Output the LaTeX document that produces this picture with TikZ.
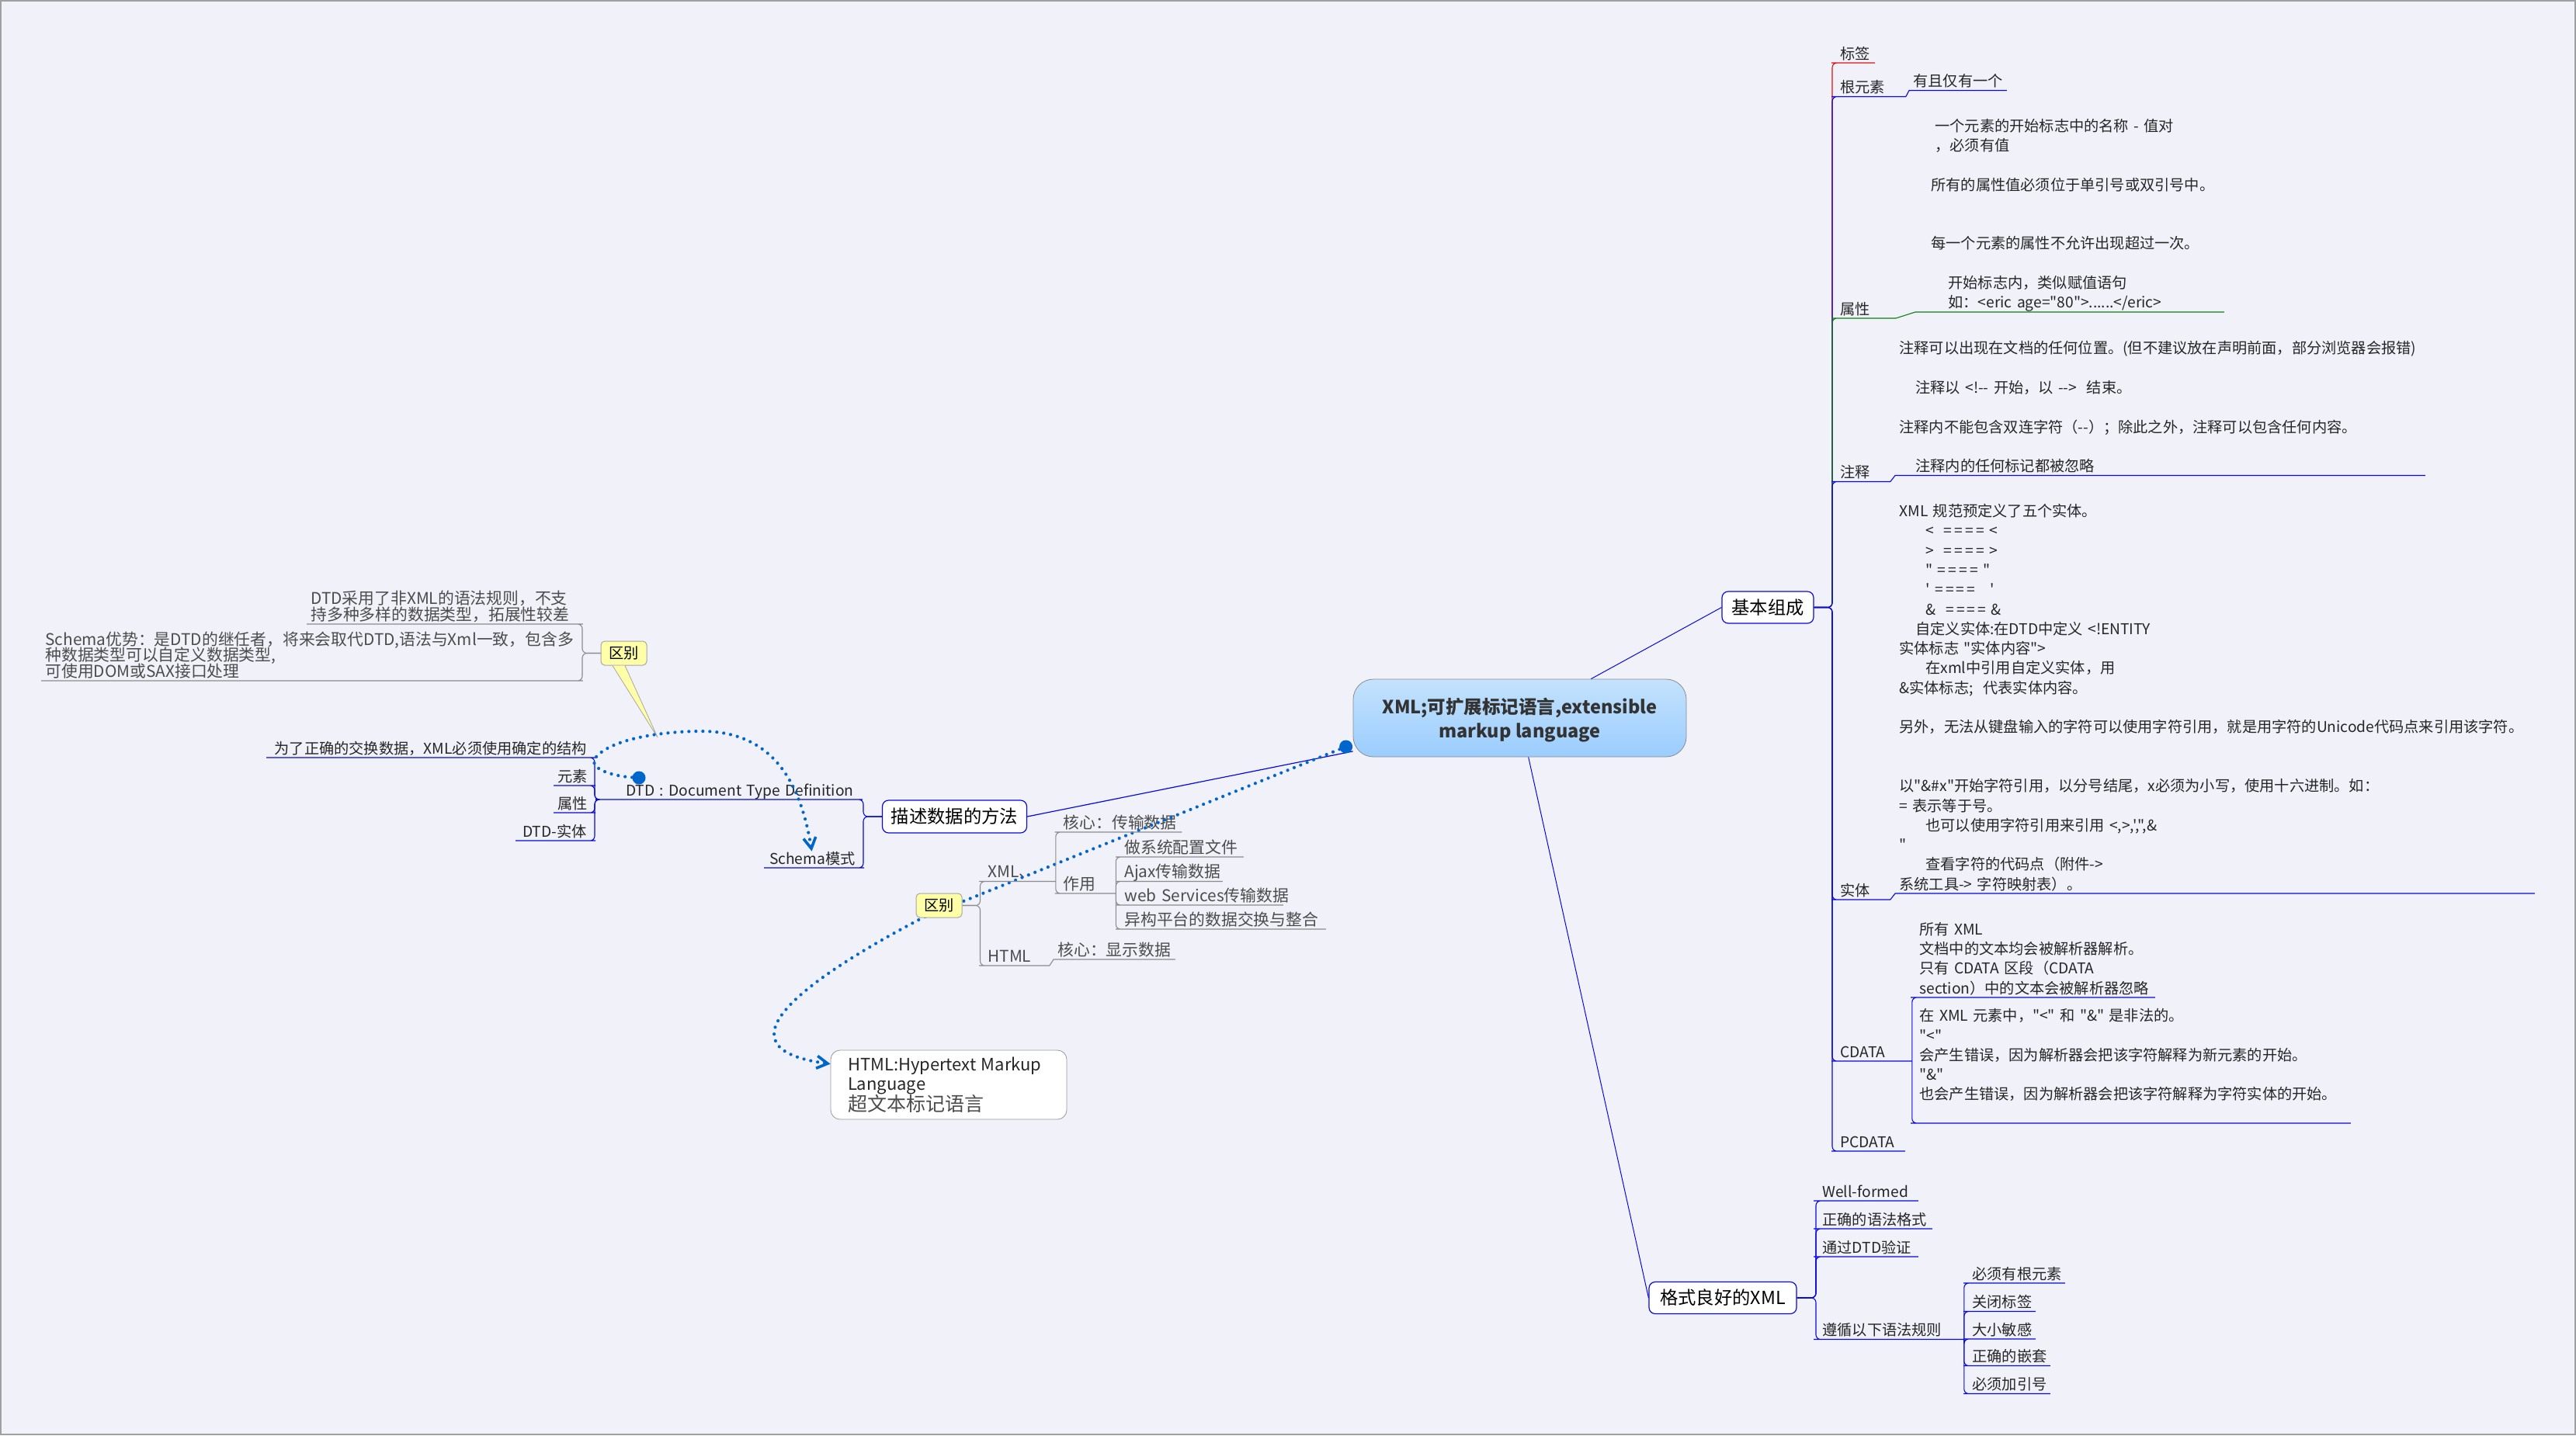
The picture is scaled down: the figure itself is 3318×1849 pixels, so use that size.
\documentclass[tikz,border=0pt]{standalone}
\usepackage{fontspec}
\defaultfontfeatures[\rmfamily]{}
\setmainfont{Noto Sans CJK SC}
\usetikzlibrary{arrows.meta}
\definecolor{bgc}{HTML}{F0F1F9}
\definecolor{frm}{HTML}{A0A0A0}
\definecolor{lblue}{HTML}{0808E0}
\definecolor{lred}{HTML}{E01010}
\definecolor{lgreen}{HTML}{108010}
\definecolor{lgrey}{HTML}{8C8C8C}
\definecolor{rel}{HTML}{0066CC}
\definecolor{notey}{HTML}{FFFFA8}
\definecolor{rtop}{HTML}{C4E2FD}
\definecolor{rmid}{HTML}{A4D2FE}
\definecolor{rbot}{HTML}{9BCDFE}
\newcommand{\tagfont}{\fontsize{9.6}{12.65}\selectfont}
\newcommand{\sngfont}{\fontsize{10.4}{12.65}\selectfont}
\newcommand{\cmtfont}{\fontsize{10.4}{10.3}\selectfont\lineskiplimit=-6pt\lineskip=0pt}
\newcommand{\topfont}{\fontsize{11.65}{14}\selectfont}
\newcommand{\tagstrut}{\rule[-2.2pt]{0pt}{8pt}}
\newcommand{\ind}[1]{\hspace*{#1pt}}
\newcommand{\eqr}{=\,=\,=\,=}
\tikzset{
    uw/.code={\pgfmathsetmacro\tagw{#1*0.5-5}\tikzset{text width=\tagw pt}},
    tag/.style={anchor=south west, align=left, inner xsep=2.5pt, inner ysep=0pt, font=\tagfont, text=black!85, execute at end node=\tagstrut},
    tagr/.style={tag, anchor=south east, align=right},
    sng/.style={tag, font=\sngfont, text=black!70},
    cmt/.style={sng, font=\cmtfont},
    topic/.style={draw=lblue, fill=white, rounded corners=4pt, inner sep=0pt, font=\topfont, line width=0.6pt},
    noteb/.style={draw=black!35, fill=notey, rounded corners=2.5pt, inner sep=0pt, minimum width=29.5pt, minimum height=15.5pt, font=\tagfont, line width=0.5pt},
    branch/.style={line width=0.55pt, rounded corners=3pt},
    rellink/.style={rel, line width=2.1pt, line cap=round, dash pattern=on 0pt off 4.5pt},
    relend/.style={-{Straight Barb[length=7pt,width=8pt,line width=1.8pt]}},
    reldot/.style={circle, fill=rel, inner sep=0pt, minimum size=8.5pt}
}
\begin{document}
\begin{tikzpicture}[x=0.5pt,y=-0.5pt]
    \useasboundingbox (0,0) rectangle (3318,1849);
    \path[fill=bgc,draw=frm,line width=0.8pt] (1,1) rectangle (3317,1848);

    % main topics
    \node[draw=black!45, rounded corners=13pt, top color=rtop, middle color=rmid, bottom color=rbot, minimum width=214.5pt, minimum height=50pt, inner sep=0pt, align=center, font=\fontsize{11.75}{15.5}\selectfont\bfseries, text=black!80] (root) at (1957.5,925) {\rule{0pt}{13pt}XML;可扩展标记语言,extensible\\markup language};
    \node[topic, minimum width=59pt, minimum height=20.5pt] (jb) at (2277,782.5) {基本组成};
    \node[topic, minimum width=95pt, minimum height=20.5pt] (gs) at (2219,1672) {格式良好的XML};
    \node[topic, minimum width=93pt, minimum height=21pt] (ms) at (1229.5,1052) {描述数据的方法};

    % basic parts
    \node[tag,uw=49] (bq) at (2365,81) {标签};
    \node[tag,uw=89] (gy) at (2365,124.5) {根元素};
    \node[tag,uw=125] (gyc) at (2459,116.5) {有且仅有一个};
    \node[tag,uw=76] (sx) at (2365,410) {属性};
    \node[tag,uw=397] (sxc) at (2467,402) {\ind{10}一个元素的开始标志中的名称 - 值对\\
        \ind{10}，必须有值\\
        ~\\
        \ind{7.5}所有的属性值必须位于单引号或双引号中。\\
        ~\\
        ~\\
        \ind{7.5}每一个元素的属性不允许出现超过一次。\\
        ~\\
        \ind{18.5}开始标志内，类似赋值语句\\
        \ind{18.5}如：<eric age="80">......</eric>};
    \node[tag,uw=69] (zs) at (2365,620.5) {注释};
    \node[tag,uw=682] (zsc) at (2441,612.5) {注释可以出现在文档的任何位置。(但不建议放在声明前面，部分浏览器会报错)\\
        ~\\
        \ind{10.5}注释以 <!-- 开始，以 -->~~结束。\\
        ~\\
        注释内不能包含双连字符（--）；除此之外，注释可以包含任何内容。\\
        ~\\
        \ind{10.5}注释内的任何标记都被忽略};
    \node[tag,uw=69] (st) at (2365,1159) {实体};
    \node[tag,uw=823] (stc) at (2441,1151) {XML 规范预定义了五个实体。\\
        \ind{17}<~~\eqr{} <\\
        \ind{17}>~~\eqr{} >\\
        \ind{17}" \eqr{} "\\
        \ind{17}' \eqr{}~~~'\\
        \ind{17}\&~~\eqr{} \&\\
        \ind{10.5}自定义实体:在DTD中定义 <!ENTITY\\
        实体标志 "实体内容">\\
        \ind{17}在xml中引用自定义实体，用\\
        \&实体标志;~~代表实体内容。\\
        ~\\
        另外，无法从键盘输入的字符可以使用字符引用，就是用字符的Unicode代码点来引用该字符。\\
        ~\\
        ~\\
        以"\&\#x"开始字符引用，以分号结尾，x必须为小写，使用十六进制。如：\\
        = 表示等于号。\\
        \ind{17}也可以使用字符引用来引用 <,>,',",\&\\
        "\\
        \ind{17}查看字符的代码点（附件->\\
        系统工具-> 字符映射表）。};
    \node[tag,uw=97] (cd) at (2365,1367) {CDATA};
    \node[tag,uw=308] (cda) at (2467,1285) {所有 XML\\
        文档中的文本均会被解析器解析。\\
        只有 CDATA 区段（CDATA\\
        section）中的文本会被解析器忽略};
    \node[tag,uw=560] (cdb) at (2467,1447) {在 XML 元素中，"<" 和 "\&" 是非法的。\\
        "<"\\
        会产生错误，因为解析器会把该字符解释为新元素的开始。\\
        "\&"\\
        也会产生错误，因为解析器会把该字符解释为字符实体的开始。\\
        ~};
    \node[tag,uw=88] (pc) at (2365,1483) {PCDATA};

    % well formed
    \node[tag,uw=128] (wf) at (2342,1547) {Well-formed};
    \node[tag,uw=146] (zq) at (2342,1583) {正确的语法格式};
    \node[tag,uw=128] (tg) at (2342,1619) {通过DTD验证};
    \node[tag,uw=187] (zx) at (2342,1725.5) {遵循以下语法规则};
    \node[tag,uw=124] (gza) at (2535,1653) {必须有根元素};
    \node[tag,uw=86] (gzb) at (2535,1689.5) {关闭标签};
    \node[tag,uw=86] (gzc) at (2535,1725) {大小敏感};
    \node[tag,uw=105] (gzd) at (2535,1759.5) {正确的嵌套};
    \node[tag,uw=105] (gze) at (2535,1795.5) {必须加引号};

    % description side
    \node[tagr,uw=337] (dtd) at (1105,1030) {DTD : Document Type Definition};
    \node[tagr,uw=122] (sch) at (1107,1118) {Schema模式};
    \node[tagr,uw=417] (wl) at (761,976) {为了正确的交换数据，XML必须使用确定的结构};
    \node[tagr,uw=47] (ys) at (761,1012) {元素};
    \node[tagr,uw=47] (sl) at (761,1047) {属性};
    \node[tagr,uw=96] (de) at (761,1083) {DTD-实体};

    % grey comparison text
    \node[cmt,uw=349] (dc) at (395,804) {DTD采用了非XML的语法规则，不支\\持多种多样的数据类型，拓展性较差};
    \node[cmt,uw=691] (sc) at (53,877) {Schema优势：是DTD的继任者，将来会取代DTD,语法与Xml一致，包含多\\种数据类型可以自定义数据类型,\\可使用DOM或SAX接口处理};
    \node[noteb] (qba) at (803.5,841.5) {区别};

    % xml vs html
    \node[sng,uw=92] (xm) at (1267,1135.5) {XML、};
    \node[sng,uw=84] (ht) at (1267,1244) {HTML};
    \node[sng,uw=157] (hxa) at (1364.5,1072) {核心：传输数据};
    \node[sng,uw=72] (zy) at (1364.5,1151) {作用};
    \node[sng,uw=158] (zya) at (1443,1104) {做系统配置文件};
    \node[sng,uw=131] (zyb) at (1443,1135.5) {Ajax传输数据};
    \node[sng,uw=209] (zyc) at (1443,1166) {\mbox{web Services传输数据}};
    \node[sng,uw=264] (zyd) at (1443,1197) {异构平台的数据交换与整合};
    \node[sng,uw=156] (hxb) at (1357,1236) {核心：显示数据};
    \node[draw=black!40, fill=white, rounded corners=6pt, minimum width=152pt, minimum height=44.5pt, inner xsep=11pt, inner ysep=0pt, text width=130pt, align=left, font=\tagfont, text=black!85] (html) at (1222,1397.5) {{\fontsize{11}{12.65}\selectfont HTML:Hypertext Markup}\\{\fontsize{11}{12.65}\selectfont Language}\\[-1pt]{\fontsize{12.5}{12.65}\selectfont\color{black!70}超文本标记语言}};

    % connectors
    \draw[lblue,line width=0.5pt] (root) -- (jb.west);
    \draw[lblue,line width=0.5pt] (root) -- (gs.west);
    \draw[lblue,line width=0.6pt] (root) -- (ms.east);

    \coordinate (jbs) at (2360,0);
    \foreach \n/\c in {bq/lred,gy/lblue,sx/lgreen,zs/lblue,st/lblue,cd/lblue,pc/lblue}
        \draw[branch,\c] (jb.east) -- (jbs |- jb.east) -- (jbs |- \n.south west) -- (\n.south west) -- (\n.south east);
    \draw[lblue,line width=0.55pt] (gy.south east) -- (gyc.south west) -- (gyc.south east);
    \draw[lgreen,line width=0.55pt] (sx.south east) -- (sxc.south west) -- (sxc.south east);
    \draw[lblue,line width=0.55pt] (zs.south east) -- (zsc.south west) -- (zsc.south east);
    \draw[lblue,line width=0.55pt] (st.south east) -- (stc.south west) -- (stc.south east);
    \foreach \n in {cda,cdb}
        \draw[branch,lblue] (cd.south east) |- (\n.south west) -- (\n.south east);

    \coordinate (gss) at (2339,0);
    \foreach \n in {wf,zq,tg,zx}
        \draw[branch,lblue] (gs.east) -- (gss |- gs.east) -- (gss |- \n.south west) -- (\n.south west) -- (\n.south east);
    \foreach \n in {gza,gzb,gzc,gzd,gze}
        \draw[branch,lblue] (zx.south east) |- (\n.south west) -- (\n.south east);

    \coordinate (mss) at (1112,0);
    \foreach \n in {dtd,sch}
        \draw[branch,lblue] (ms.west) -- (mss |- ms.west) -- (mss |- \n.south east) -- (\n.south east) -- (\n.south west);
    \coordinate (dts) at (766,0);
    \foreach \n in {wl,ys,sl,de}
        \draw[branch,lblue] (dtd.south west) -- (dts |- dtd.south west) -- (dts |- \n.south east) -- (\n.south east) -- (\n.south west);

    \coordinate (qbs) at (750,0);
    \foreach \n in {dc,sc}
        \draw[branch,lgrey] (qba.west) -- (qbs |- qba.west) -- (qbs |- \n.south east) -- (\n.south east) -- (\n.south west);
    \coordinate (qbtip) at (847,950);
    \draw[fill=notey,draw=black!35,line width=0.4pt] ([xshift=-7.25pt]qba.south) -- (qbtip) -- ([xshift=0.75pt]qba.south);

    % relationships
    \node[reldot] (dota) at (823,1002) {};
    \node[reldot] (dotb) at (1733.6,962) {};
    \draw[rellink,relend] (dota) .. controls (790,1000) and (755,990) .. (768,975) .. controls (790,950) and (860,942) .. (903,942) .. controls (990,942) and (1030,1000) .. (sch.north);
    \draw[rellink,relend] (dotb) -- (1189,1182) .. controls (1040,1260) and (915,1350) .. (html.170);

    \node[noteb] (qbb) at (1209.5,1166.5) {区别};
    \coordinate (qbz) at (1262.5,0);
    \foreach \n in {xm,ht}
        \draw[branch,lgrey] (qbb.east) -- (qbz |- qbb.east) -- (qbz |- \n.south west) -- (\n.south west) -- (\n.south east);
    \foreach \n in {hxa,zy}
        \draw[branch,lgrey] (xm.south east) |- (\n.south west) -- (\n.south east);
    \foreach \n in {zya,zyb,zyc,zyd}
        \draw[branch,lgrey] (zy.south east) |- (\n.south west) -- (\n.south east);
    \draw[lgrey,line width=0.55pt] (ht.south east) -- (hxb.south west) -- (hxb.south east);
\end{tikzpicture}
\end{document}
